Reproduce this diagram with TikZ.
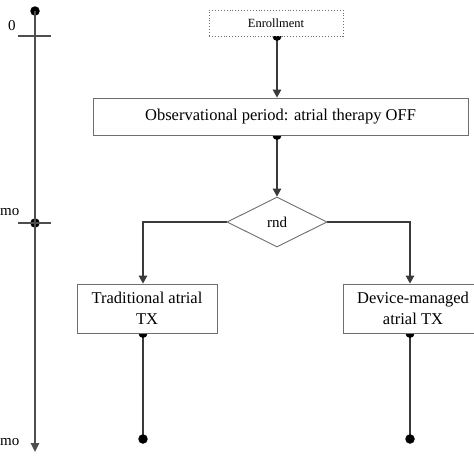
\documentclass[tikz,border=0pt]{standalone}
\usepackage{fontspec}
\setmainfont{Liberation Serif}
\usetikzlibrary{shapes.geometric,arrows.meta}
\pgfdeclarelayer{background}
\pgfsetlayers{background,main}
\definecolor{boxgray}{HTML}{6E6E6E}
\definecolor{linegray}{HTML}{3A3A3A}
\tikzset{
  flowbox/.style={draw=boxgray, line width=0.9pt, fill=white, inner sep=0pt, align=center, font=\fontsize{16.5}{20.5}\selectfont},
  conn/.style={draw=linegray, line width=1.3pt, -{Triangle[length=8pt,width=8.5pt]}},
  plainconn/.style={draw=linegray, line width=1.3pt},
  halfdot/.style={fill=black},
  enddot/.style={circle, fill=black, inner sep=0pt, minimum size=9.5pt},
  axis/.style={draw=linegray!90, line width=1.3pt},
  lbl/.style={font=\fontsize{15}{18}\selectfont, inner sep=0pt}
}
\begin{document}
\begin{tikzpicture}[x=1pt,y=-1pt]
\useasboundingbox (0,0) rectangle (474,474);
% timeline
\node[enddot] (t0) at (35,11) {};
\coordinate (tend) at (35,452);
\coordinate (tick1l) at (18,36);
\coordinate (tick1r) at (51,36);
\coordinate (tick2l) at (18,223);
\coordinate (tick2r) at (51,223);
\node[enddot] (t2) at (35,223) {};
\draw[axis, -{Triangle[length=9pt,width=8.5pt]}] (t0.center) -- (tend);
\draw[axis] (tick1l) -- (tick1r);
\draw[axis] (tick2l) -- (tick2r);
\node[lbl] (l0) at (12,26) {0};
\node[lbl, anchor=base west] (l1) at (0,215) {mo};
\node[lbl, anchor=base west] (l2) at (0,445) {mo};
% flow
\node[flowbox, draw=boxgray, dotted, line width=0.8pt, minimum width=134pt, minimum height=26pt, font=\fontsize{12.5}{15}\selectfont] (enr) at (276,23) {Enrollment};
\node[flowbox, minimum width=375pt, minimum height=37pt] (obs) at (280.5,116.5) {Observational period: atrial therapy OFF};
\node[flowbox, shape=diamond, minimum width=100pt, minimum height=50pt, font=\fontsize{15}{18}\selectfont] (rnd) at (277,222) {rnd};
\node[flowbox, minimum width=140pt, minimum height=49pt] (lbox) at (147,308.5) {Traditional atrial\\TX};
\node[flowbox, minimum width=140pt, minimum height=49pt] (rbox) at (413,308.5) {Device-managed\\atrial TX};
\node[enddot] (ldot) at (143,439) {};
\node[enddot] (rdot) at (410,439) {};
\begin{pgfonlayer}{background}
\fill[white] (0,0) rectangle (474,474);
\draw[conn] ([xshift=1pt]enr.south) -- ([xshift=-3.5pt]obs.north);
\fill[halfdot] ([xshift=1pt]enr.south) circle (4.5pt);
\draw[conn] ([xshift=-3.5pt]obs.south) -- (rnd.north);
\fill[halfdot] ([xshift=-3.5pt]obs.south) circle (4.5pt);
\draw[conn] (rnd.west) -| ([xshift=-4pt]lbox.north);
\draw[conn] (rnd.east) -| ([xshift=-3pt]rbox.north);
\draw[plainconn] ([xshift=-4pt]lbox.south) -- (ldot.center);
\fill[halfdot] ([xshift=-4pt]lbox.south) circle (4.5pt);
\draw[plainconn] ([xshift=-3pt]rbox.south) -- (rdot.center);
\fill[halfdot] ([xshift=-3pt]rbox.south) circle (4.5pt);
\end{pgfonlayer}
\end{tikzpicture}
\end{document}
